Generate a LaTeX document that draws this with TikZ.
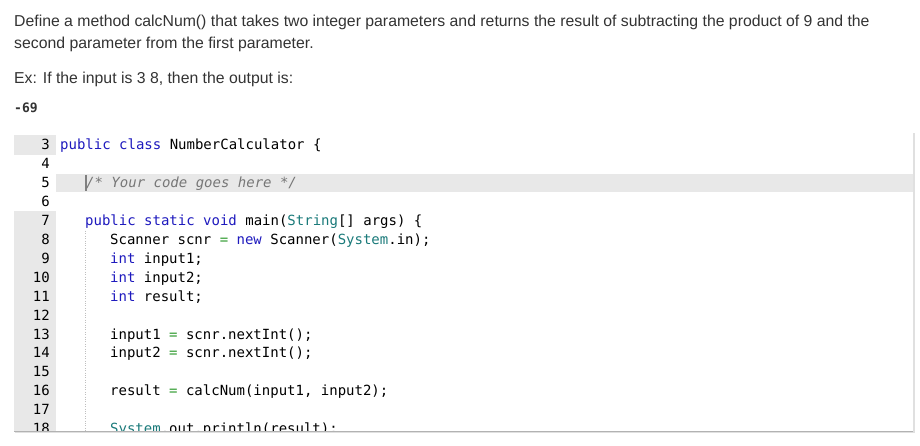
\documentclass[tikz,border=0pt]{standalone}
\usepackage{fontspec}
\setmainfont{Liberation Sans}
\newfontfamily\codefont{DejaVu Sans Mono}
\usetikzlibrary{calc}
\definecolor{kw}{HTML}{1E1ABE}
\definecolor{ty}{HTML}{1A7A7A}
\definecolor{eq}{HTML}{2E9A2E}
\definecolor{cm}{HTML}{777777}
\definecolor{gut}{HTML}{E8E8E8}
\definecolor{txt}{HTML}{333333}
\newcommand{\K}[1]{\textcolor{kw}{#1}}
\newcommand{\T}[1]{\textcolor{ty}{#1}}
\newcommand{\E}{\textcolor{eq}{=}}
\begin{document}
\begin{tikzpicture}[x=1pt,y=-1pt,
  prose/.style={anchor=base west,inner sep=0pt,text=txt,font=\fontsize{15.8}{18}\selectfont},
  code/.style={anchor=base west,inner sep=0pt,font=\codefont\fontsize{14}{16}\selectfont},
  num/.style={anchor=base east,inner sep=0pt,font=\codefont\fontsize{14}{16}\selectfont}]
\useasboundingbox (0,0) rectangle (920,446);
\fill[white] (0,0) rectangle (920,446);
\node[prose] (p1) at (14,27) {Define a method calcNum() that takes two integer parameters and returns the result of subtracting the product of 9 and the};
\node[prose] (p2) at (14,49) {second parameter from the first parameter.};
\node[prose] (p3) at (14,84) {Ex: If the input is 3 8, then the output is:};
\node[anchor=base west,inner sep=0pt,font=\codefont\bfseries\fontsize{13}{15}\selectfont,text=txt] (out) at (14,113) {-69};
% box shadow
\fill[black!12] (15,133) rectangle (915,433);
\fill[white] (14,132) rectangle (913,431);
\fill[gut] (14,135) rectangle (56,155);
\fill[gut] (14,211) rectangle (56,431);
\fill[gut] (56,174) rectangle (913,192);
\draw[black!50,line width=1.2pt] (86,175) -- (86,191);
\draw[black!25,dotted] (85,231) -- (85,431);
\begin{scope}
\clip (14,132) rectangle (913,431);
\foreach \n [count=\i from 0] in {3,...,18} {
  \node[num] (n\n) at (50,{150+18.9*\i}) {\n};
}
\def\L#1{{150+18.9*(#1-3)}}
\node[code] (c3) at (60,\L{3}) {\K{public} \K{class} NumberCalculator \{};
\node[code,text=cm,font=\codefont\itshape\fontsize{14}{16}\selectfont] (c5) at (86,\L{5}) {/* Your code goes here */};
\node[code] (c7) at (85,\L{7}) {\K{public} \K{static} \K{void} main(\T{String}[] args) \{};
\node[code] (c8) at (110,\L{8}) {Scanner scnr \E{} \K{new} Scanner(\T{System}.in);};
\node[code] (c9) at (110,\L{9}) {\K{int} input1;};
\node[code] (c10) at (110,\L{10}) {\K{int} input2;};
\node[code] (c11) at (110,\L{11}) {\K{int} result;};
\node[code] (c13) at (110,\L{13}) {input1 \E{} scnr.nextInt();};
\node[code] (c14) at (110,\L{14}) {input2 \E{} scnr.nextInt();};
\node[code] (c16) at (110,\L{16}) {result \E{} calcNum(input1, input2);};
\node[code] (c18) at (110,\L{18}) {\T{System}.out.println(result);};
\end{scope}
\draw[black!30] (14,431) -- (913,431);
\end{tikzpicture}
\end{document}
